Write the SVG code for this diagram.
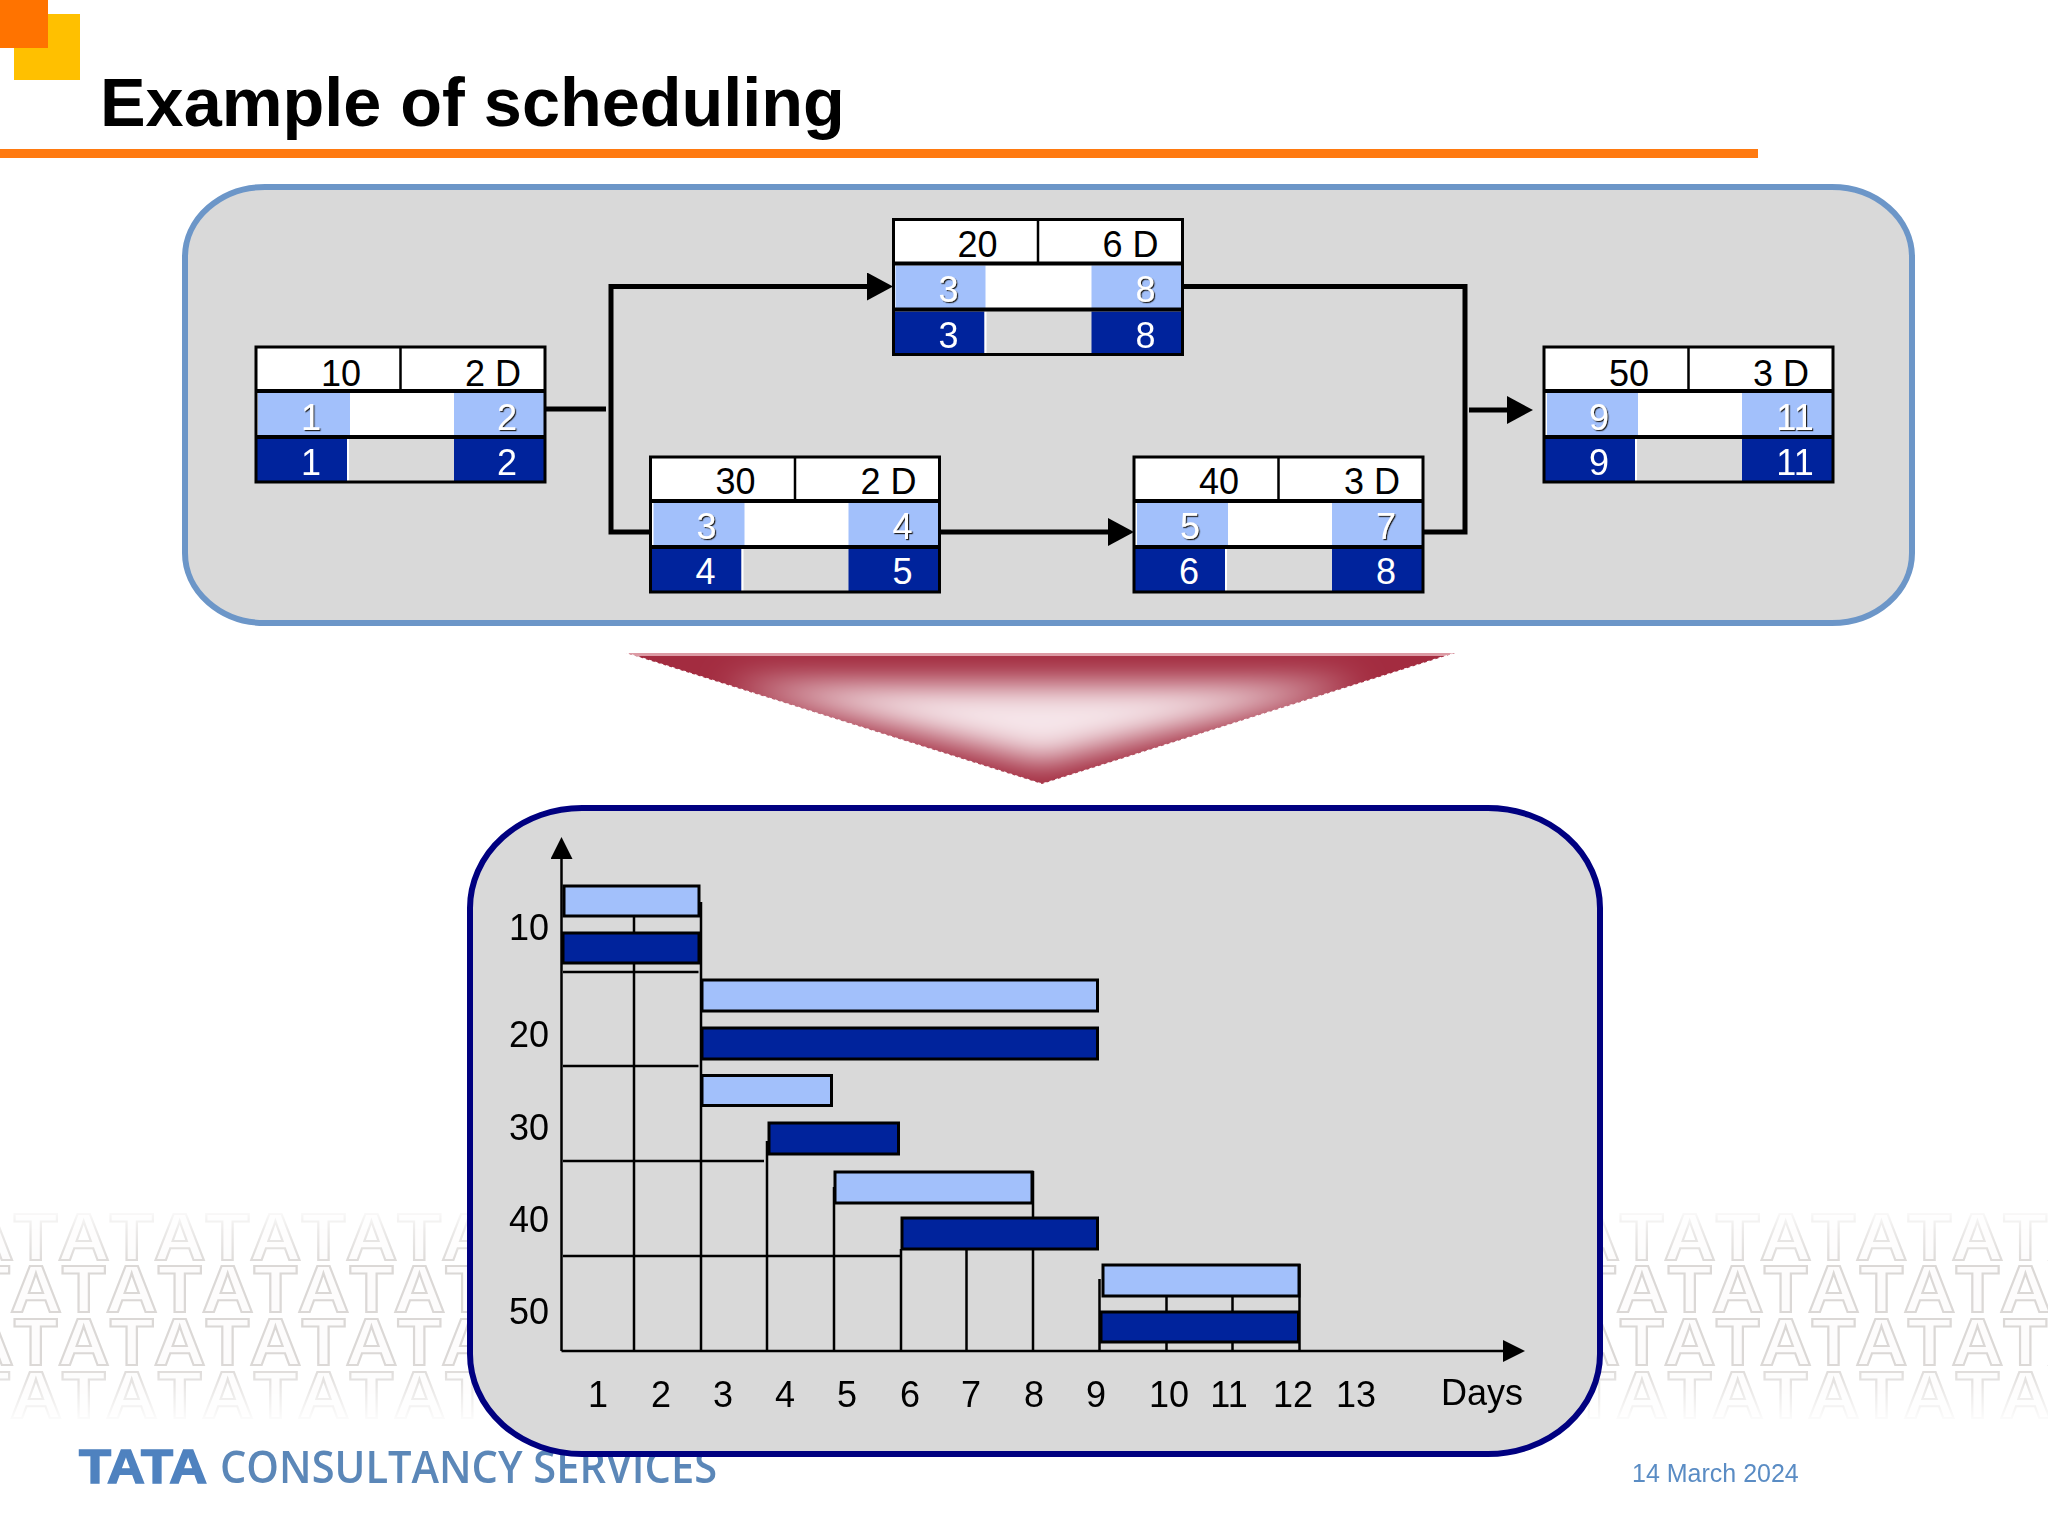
<svg xmlns="http://www.w3.org/2000/svg" width="2048" height="1536" viewBox="0 0 2048 1536">
<style>
text{font-family:"Liberation Sans",Arial,sans-serif}
.t{font-size:36px;fill:#000}
.m{text-anchor:middle}
.e{text-anchor:end}
.w{font-size:36px;fill:#fff;text-anchor:middle}
.s{filter:url(#emb)}
.lt{fill:#a2c0fb}
.dk{fill:#00239c}
.ol{fill:none;stroke:#000;stroke-width:3}
.ln{fill:none;stroke:#000;stroke-width:4}
.dv{fill:none;stroke:#000;stroke-width:2.5}
.c{fill:none;stroke:#000;stroke-width:5}
.g{fill:none;stroke:#000;stroke-width:2.5}
.b{stroke:#000;stroke-width:3}
.wm{font-size:66px;font-weight:bold;font-kerning:none;fill:#fdfcfc;stroke:#dbd8d6;stroke-width:2}
</style>
<defs>
<filter id="emb" x="-30%" y="-30%" width="160%" height="160%"><feDropShadow dx="1.2" dy="1.2" stdDeviation="0.3" flood-color="#222"/></filter>
<filter id="blur" x="-20%" y="-60%" width="140%" height="220%"><feGaussianBlur stdDeviation="16"/></filter>
<marker id="arr" markerUnits="userSpaceOnUse" markerWidth="26" markerHeight="28" viewBox="0 0 26 28" refX="6" refY="14" orient="auto"><path d="M0 0L26 14L0 28Z" fill="#000"/></marker>
<marker id="ax" markerUnits="userSpaceOnUse" markerWidth="22" markerHeight="22" viewBox="0 0 22 22" refX="2" refY="11" orient="auto"><path d="M0 0L22 11L0 22Z" fill="#000"/></marker>
<linearGradient id="fade" gradientUnits="userSpaceOnUse" x1="0" y1="1205" x2="0" y2="1425"><stop offset="0" stop-color="#fff" stop-opacity="0"/><stop offset=".12" stop-color="#fff" stop-opacity=".55"/><stop offset=".28" stop-color="#fff" stop-opacity="1"/><stop offset=".72" stop-color="#fff" stop-opacity="1"/><stop offset="1" stop-color="#fff" stop-opacity="0"/></linearGradient>
<mask id="wmask" maskUnits="userSpaceOnUse" x="0" y="1190" width="2048" height="250"><rect x="0" y="1190" width="2048" height="250" fill="url(#fade)"/></mask>
<clipPath id="tri"><path d="M626 653H1455L1042 784Z"/></clipPath>
</defs>
<rect width="2048" height="1536" fill="#fff"/>
<g id="watermark" mask="url(#wmask)">
<g class="wm">
<text transform="translate(-82 1260) scale(1.09 1)">TATATATATATA</text><text transform="translate(-34 1312) scale(1.09 1)">TATATATATATA</text><text transform="translate(-82 1365) scale(1.09 1)">TATATATATATA</text><text transform="translate(-34 1418) scale(1.09 1)">TATATATATATA</text>
<text transform="translate(1524 1260) scale(1.09 1)">TATATATATATA</text><text transform="translate(1572 1312) scale(1.09 1)">TATATATATATA</text><text transform="translate(1524 1365) scale(1.09 1)">TATATATATATA</text><text transform="translate(1572 1418) scale(1.09 1)">TATATATATATA</text>
</g>
</g>
<g id="header">
<rect x="14" y="14" width="66" height="66" fill="#ffc000"/>
<rect x="0" y="0" width="48" height="48" fill="#ff7300"/>
<text x="100" y="125.500" font-size="68.400" font-weight="bold" fill="#000">Example of scheduling</text>
<rect x="0" y="149" width="1758" height="9" fill="#ff7a10"/>
</g>
<g id="footer">
<text x="79" y="1483" font-size="48" font-weight="bold" fill="#4f82bf" stroke="#4f82bf" stroke-width="1.5" textLength="128" lengthAdjust="spacingAndGlyphs">TATA</text>
<text x="220" y="1483" font-size="46" font-weight="600" style="font-family:'Open Sans',sans-serif" fill="#5b87b8" textLength="497" lengthAdjust="spacingAndGlyphs">CONSULTANCY SERVICES</text>
<text x="1632" y="1482" font-size="25" fill="#5a8cc4">14 March 2024</text>
</g>
<rect id="network-panel" x="185" y="187" width="1727" height="436" rx="80" ry="70" fill="#d9d9d9" stroke="#6c96c8" stroke-width="6"/>
<g id="transition-arrow">
<path d="M626 653H1455L1042 784Z" fill="#a32c40"/>
<g clip-path="url(#tri)"><path d="M720 684H1365L1041 762Z" fill="#f6e6ea" filter="url(#blur)"/><rect x="626" y="653" width="830" height="3" fill="#dc9aa4"/></g>
<path d="M626 653L1042 784L1455 653" fill="none" stroke="#fff" stroke-width="1.2" stroke-dasharray="3 3"/>
</g>
<rect id="gantt-panel" x="470" y="808" width="1130" height="646" rx="112" ry="100" fill="#d9d9d9" stroke="#000080" stroke-width="6"/>
<g id="connectors">
<path class="c" d="M546 409H606"/>
<path class="c" d="M650 532H611V286.500H873" marker-end="url(#arr)"/>
<path class="c" d="M941 532H1114" marker-end="url(#arr)"/>
<path class="c" d="M1183 286.500H1465V532H1423"/>
<path class="c" d="M1469 410H1513" marker-end="url(#arr)"/>
</g>
<g id="node-10" transform="translate(256 347)">
<rect width="289" height="135" fill="#fff"/><rect x="2" y="46" width="92" height="43" class="lt"/><rect x="198" y="46" width="90" height="43" class="lt"/><rect y="90" width="289" height="45" fill="#d9d9d9"/><rect x="1" y="92" width="90" height="42" class="dk"/><rect x="91" y="92" width="2" height="42" fill="#fff"/><rect x="198" y="92" width="90" height="42" class="dk"/>
<rect width="289" height="135" class="ol"/><path class="ln" d="M0 44H289M0 90H289"/><path class="dv" d="M144.500 0V44"/>
<text x="85" y="39" class="t m">10</text><text x="237" y="39" class="t m">2 D</text>
<text x="55" y="83" class="w s">1</text><text x="251" y="83" class="w s">2</text><text x="55" y="128" class="w">1</text><text x="251" y="128" class="w">2</text>
</g>
<g id="node-20" transform="translate(893.500 219.500)">
<rect width="289" height="135" fill="#fff"/><rect x="2" y="46" width="90" height="43" class="lt"/><rect x="198" y="46" width="90" height="43" class="lt"/><rect y="90" width="289" height="45" fill="#d9d9d9"/><rect x="1" y="92" width="90" height="42" class="dk"/><rect x="91" y="92" width="2" height="42" fill="#fff"/><rect x="198" y="92" width="90" height="42" class="dk"/>
<rect width="289" height="135" class="ol"/><path class="ln" d="M0 44H289M0 90H289"/><path class="dv" d="M144.500 0V44"/>
<text x="84" y="37" class="t m">20</text><text x="237" y="37" class="t m">6 D</text>
<text x="55" y="82" class="w s">3</text><text x="252" y="82" class="w s">8</text><text x="55" y="128" class="w">3</text><text x="252" y="128" class="w">8</text>
</g>
<g id="node-30" transform="translate(650.500 457)">
<rect width="289" height="135" fill="#fff"/><rect x="3" y="46" width="91" height="43" class="lt"/><rect x="198" y="46" width="90" height="43" class="lt"/><rect y="90" width="289" height="45" fill="#d9d9d9"/><rect x="1" y="92" width="90" height="42" class="dk"/><rect x="91" y="92" width="2" height="42" fill="#fff"/><rect x="198" y="92" width="90" height="42" class="dk"/>
<rect width="289" height="135" class="ol"/><path class="ln" d="M0 44H289M0 90H289"/><path class="dv" d="M144.500 0V44"/>
<text x="85" y="37" class="t m">30</text><text x="238" y="37" class="t m">2 D</text>
<text x="56" y="82" class="w s">3</text><text x="252" y="82" class="w s">4</text><text x="55" y="127" class="w">4</text><text x="252" y="127" class="w">5</text>
</g>
<g id="node-40" transform="translate(1134 457)">
<rect width="289" height="135" fill="#fff"/><rect x="3" y="46" width="91" height="43" class="lt"/><rect x="198" y="46" width="90" height="43" class="lt"/><rect y="90" width="289" height="45" fill="#d9d9d9"/><rect x="1" y="92" width="90" height="42" class="dk"/><rect x="91" y="92" width="2" height="42" fill="#fff"/><rect x="198" y="92" width="90" height="42" class="dk"/>
<rect width="289" height="135" class="ol"/><path class="ln" d="M0 44H289M0 90H289"/><path class="dv" d="M144.500 0V44"/>
<text x="85" y="37" class="t m">40</text><text x="238" y="37" class="t m">3 D</text>
<text x="56" y="82" class="w s">5</text><text x="252" y="82" class="w s">7</text><text x="55" y="127" class="w">6</text><text x="252" y="127" class="w">8</text>
</g>
<g id="node-50" transform="translate(1544 347)">
<rect width="289" height="135" fill="#fff"/><rect x="3" y="46" width="91" height="43" class="lt"/><rect x="198" y="46" width="90" height="43" class="lt"/><rect y="90" width="289" height="45" fill="#d9d9d9"/><rect x="1" y="92" width="90" height="42" class="dk"/><rect x="91" y="92" width="2" height="42" fill="#fff"/><rect x="198" y="92" width="90" height="42" class="dk"/>
<rect width="289" height="135" class="ol"/><path class="ln" d="M0 44H289M0 90H289"/><path class="dv" d="M144.500 0V44"/>
<text x="85" y="39" class="t m">50</text><text x="237" y="39" class="t m">3 D</text>
<text x="55" y="83" class="w s">9</text><text x="251" y="83" class="w s">11</text><text x="55" y="128" class="w">9</text><text x="251" y="128" class="w">11</text>
</g>
<g id="gantt">
<g id="gantt-grid">
<path class="g" d="M561.500 1351V857" marker-end="url(#ax)"/>
<path class="g" d="M561.500 1351H1505" marker-end="url(#ax)"/>
<path class="g" d="M634 916V1351M701 902V1351M767 1141V1351M834 1187V1351M901 1249V1351M966.500 1249V1351M1033 1171V1351M1099.500 1279V1351M1166.500 1296V1351M1232.500 1296V1351M1299.500 1264V1351"/>
<path class="g" d="M563 972H698.500M563 1066H698.500M563 1161H764M563 1256H900"/>
</g>
<g id="gantt-bars">
<rect x="564" y="886" width="135" height="30" class="lt b"/>
<rect x="563" y="933" width="136" height="30" class="dk b"/>
<rect x="702" y="980" width="395.500" height="31" class="lt b"/>
<rect x="702" y="1028" width="395.500" height="31" class="dk b"/>
<rect x="702" y="1075.500" width="129.500" height="30" class="lt b"/>
<rect x="769" y="1123" width="129.500" height="31" class="dk b"/>
<rect x="835" y="1172" width="197" height="31" class="lt b"/>
<rect x="902" y="1218" width="195.500" height="31" class="dk b"/>
<rect x="1103" y="1265" width="196" height="31" class="lt b"/>
<rect x="1101" y="1312" width="197.500" height="30" class="dk b"/>
</g>
<g id="gantt-labels" class="t">
<text x="549" y="940" class="t e">10</text><text x="549" y="1047" class="t e">20</text><text x="549" y="1140" class="t e">30</text><text x="549" y="1232" class="t e">40</text><text x="549" y="1324" class="t e">50</text>
<text x="598" y="1407" class="t m">1</text><text x="661" y="1407" class="t m">2</text><text x="723" y="1407" class="t m">3</text><text x="785" y="1407" class="t m">4</text><text x="847" y="1407" class="t m">5</text><text x="910" y="1407" class="t m">6</text><text x="971" y="1407" class="t m">7</text><text x="1034" y="1407" class="t m">8</text><text x="1096" y="1407" class="t m">9</text><text x="1169" y="1407" class="t m">10</text><text x="1229" y="1407" class="t m">11</text><text x="1293" y="1407" class="t m">12</text><text x="1356" y="1407" class="t m">13</text>
<text x="1482" y="1405" class="t m">Days</text>
</g>
</g>
</svg>
